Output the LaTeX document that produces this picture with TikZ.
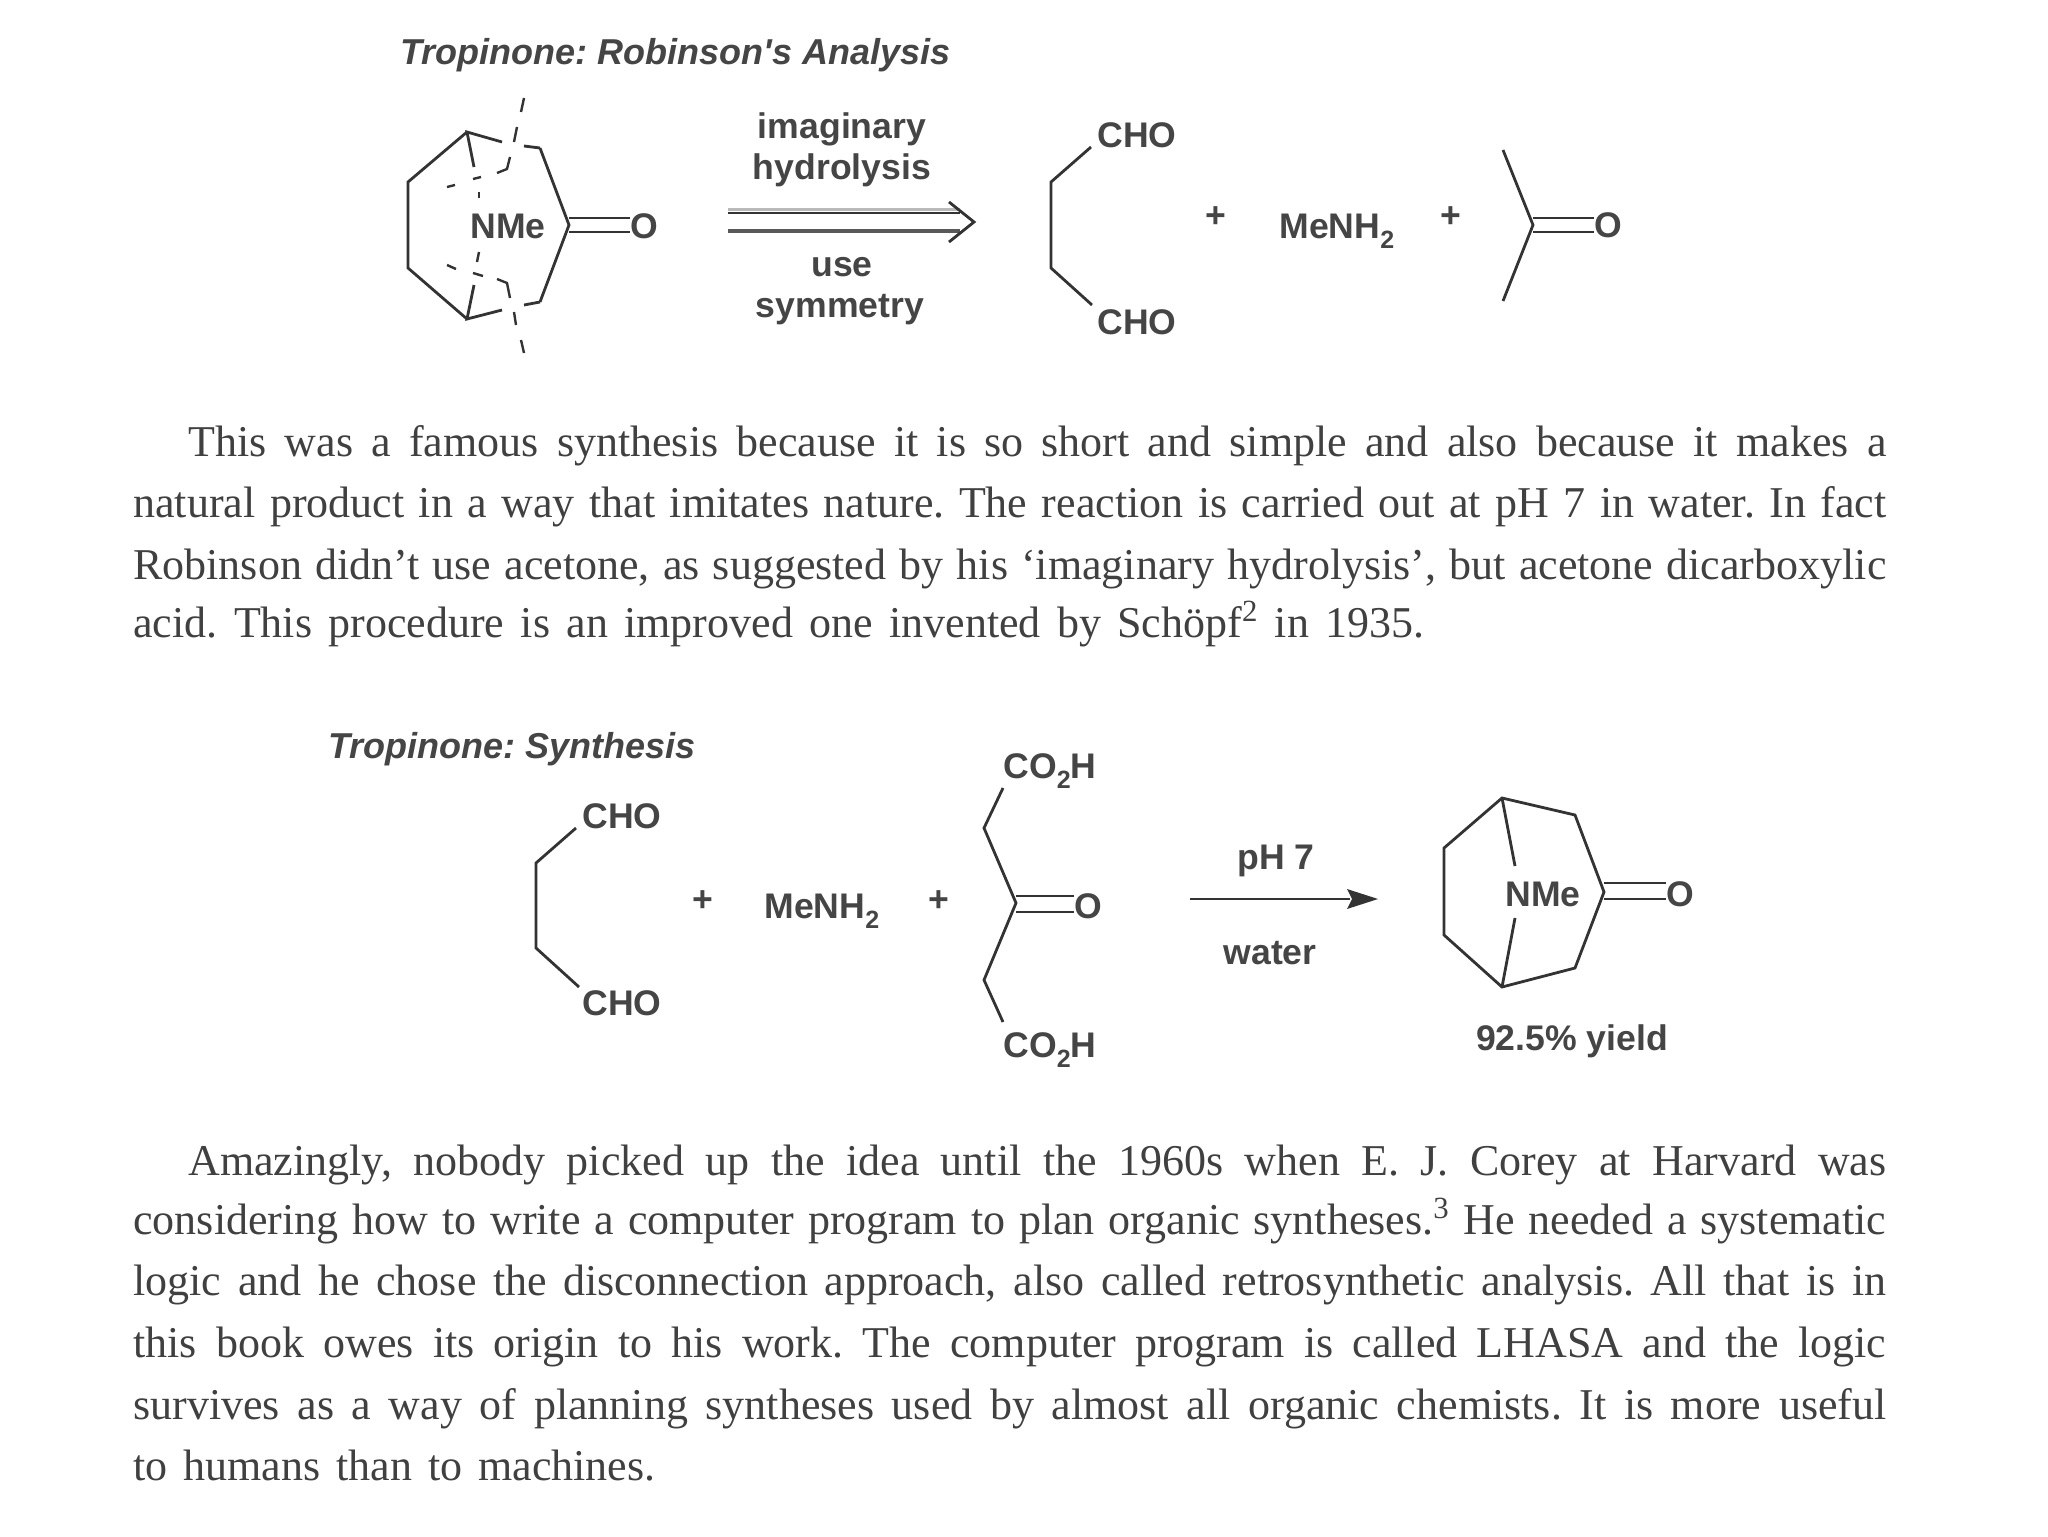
\documentclass[tikz,border=0pt]{standalone}
\usepackage{fontspec}
\setmainfont{Liberation Serif}
\newfontfamily\labfont{Liberation Sans Bold}
\newfontfamily\titlefont{Liberation Sans Bold Italic}
\definecolor{ink}{gray}{0.2}
\definecolor{labink}{gray}{0.27}
\definecolor{txt}{gray}{0.25}
\tikzset{
  bond/.style={draw=ink,line width=1.4pt,line join=miter},
  cut/.style={draw=ink,line width=1.2pt},
  lab/.style={inner sep=0pt,text=labink,font=\labfont\fontsize{17.8}{19}\selectfont},
  ttl/.style={inner sep=0pt,anchor=base west,text=labink,font=\titlefont\fontsize{18}{20}\selectfont\frenchspacing},
  bodyline/.style={inner sep=0pt,anchor=base west,text=txt,font=\fontsize{22}{24}\selectfont},
}
\newcommand{\bline}[5]{\node[bodyline] (#1) at (#2,#3) {\frenchspacing\makebox[#4pt][s]{#5}};}
\newcommand{\lowtwo}{\raisebox{-0.3em}{\fontsize{12.5}{13}\selectfont 2}}
\begin{document}
\begin{tikzpicture}[x=0.5pt,y=-0.5pt]
\useasboundingbox (0,0) rectangle (2048,1536);
% ---- titles
\node[ttl] (t1) at (400,65) {Tropinone: Robinson's Analysis};
\node[ttl] (t2) at (328,758) {Tropinone: Synthesis};
% ---- cut tropinone
\foreach \n/\x/\y in {a/467/132,b/408/182,c/408/268,d/467/319,e/540/148,f/569/225,g/540/302}
  \coordinate (\n) at (\x,\y);
\draw[bond] (e) -- (f) -- (g);
\draw[bond] (a) -- (b) -- (c) -- (d);
\coordinate (a1) at (502,142); \coordinate (e1) at (524,146);
\coordinate (d1) at (502,310); \coordinate (g1) at (524,305);
\coordinate (a2) at (474,167); \coordinate (d2) at (474,285);
\draw[bond] (a1) -- (a) -- (a2);
\draw[bond] (d1) -- (d) -- (d2);
\draw[bond] (e1) -- (e);
\draw[bond] (g1) -- (g);
\foreach \xa/\ya/\xb/\yb in {524/98/521/112, 517/127/514/142, 481/177/473/179, 455/185/447/187, 479/192/479/198, 479/252/477/262, 447/265/456/269, 473/273/483/276, 514/312/516/325, 521/340/524/353}
  \draw[cut] (\xa,\ya) -- (\xb,\yb);
\draw[cut] (510,157) -- (507,169) -- (497,173);
\draw[cut] (497,279) -- (507,283) -- (510,298);
\node[lab] (nme1) at (508,226) {NMe};
\node[lab] (o1) at (644,226) {O};
\coordinate (f1u) at (569,218); \coordinate (f1l) at (569,232);
\draw[bond] (f1u) -- (o1.west |- f1u);
\draw[bond] (f1l) -- (o1.west |- f1l);
% ---- double arrow
\coordinate (da1) at (728,213); \coordinate (da2) at (960,213);
\coordinate (db1) at (728,231); \coordinate (db2) at (960,231);
\draw[draw=gray!55,line width=1.5pt] (728,209) -- (960,209);
\draw[bond] (da1) -- (da2);
\draw[draw=gray!70!black,line width=2pt] (db1) -- (db2);
\draw[bond] (949,202) -- (974,222) -- (949,242);
\node[lab] (l1) at (842,129) {imaginary};
\node[lab] (l2) at (842,170) {hydrolysis};
\node[lab] (l3) at (842,267) {use};
\node[lab] (l4) at (840,310) {symmetry};
% ---- dialdehyde 1
\node[lab] (cho1) at (1137,135) {CHO};
\node[lab] (cho2) at (1137,322) {CHO};
\coordinate (h1) at (1091,147); \coordinate (h2) at (1051,182);
\coordinate (h3) at (1051,268); \coordinate (h4) at (1092,305);
\draw[bond] (h1) -- (h2) -- (h3) -- (h4);
\node[lab] (p1) at (1216,217) {+};
\node[lab,anchor=base west] (m1) at (1279,238) {MeNH\lowtwo};
\node[lab] (p2) at (1451,217) {+};
% ---- acetone
\coordinate (k1) at (1503,150); \coordinate (k2) at (1533,225); \coordinate (k3) at (1503,301);
\node[lab] (o2) at (1608,225) {O};
\draw[bond] (k1) -- (k2) -- (k3);
\coordinate (k2u) at (1533,218); \coordinate (k2l) at (1533,232);
\draw[bond] (k2u) -- (o2.west |- k2u);
\draw[bond] (k2l) -- (o2.west |- k2l);
% ---- body 1
\bline{b1}{188}{456}{849}{This was a famous synthesis because it is so short and simple and also because it makes a}
\bline{b2}{133}{517}{876.5}{natural product in a way that imitates nature. The reaction is carried out at pH 7 in water. In fact}
\bline{b3}{133}{579}{876.5}{Robinson didn’t use acetone, as suggested by his ‘imaginary hydrolysis’, but acetone dicarboxylic}
\bline{b4}{133}{637}{645.5}{acid. This procedure is an improved one invented by Schöpf\textsuperscript{2} in 1935.}
% ---- synthesis
\node[lab] (cho3) at (622,816) {CHO};
\node[lab] (cho4) at (622,1003) {CHO};
\coordinate (s1) at (576,828); \coordinate (s2) at (536,863);
\coordinate (s3) at (536,948); \coordinate (s4) at (579,987);
\draw[bond] (s1) -- (s2) -- (s3) -- (s4);
\node[lab] (p3) at (703,901) {+};
\node[lab,anchor=base west] (m2) at (764,918) {MeNH\lowtwo};
\node[lab] (p4) at (939,901) {+};
\coordinate (q1) at (1003,788); \coordinate (q2) at (984,828); \coordinate (q3) at (1016,903);
\coordinate (q4) at (984,980); \coordinate (q5) at (1003,1022);
\draw[bond] (q1) -- (q2) -- (q3) -- (q4) -- (q5);
\node[lab,anchor=base west] (co1) at (1003,778) {CO\lowtwo H};
\node[lab,anchor=base west] (co2) at (1003,1057) {CO\lowtwo H};
\node[lab] (o3) at (1088,906) {O};
\coordinate (q3u) at (1016,896); \coordinate (q3l) at (1016,912);
\draw[bond] (q3u) -- (o3.west |- q3u);
\draw[bond] (q3l) -- (o3.west |- q3l);
% ---- reaction arrow
\coordinate (r1) at (1190,899); \coordinate (r2) at (1350,899);
\draw[bond] (r1) -- (r2);
\fill[ink] (1347,889) -- (1352,899) -- (1347,909) -- (1378,899) -- cycle;
\node[lab] (ph) at (1276,861) {pH 7};
\node[lab] (wa) at (1270,953) {water};
% ---- product
\foreach \n/\x/\y in {pa/1502/798,pb/1444/848,pc/1444/935,pd/1502/987,pe/1575/968,pf/1604/892,pg/1575/815}
  \coordinate (\n) at (\x,\y);
\draw[bond] (pf) -- (pg) -- (pa) -- (pb) -- (pc) -- (pd) -- (pe) -- cycle;
\node[lab] (nme2) at (1543,894) {NMe};
\coordinate (pt) at (1515,866); \coordinate (pu) at (1515,918);
\draw[bond] (pa) -- (pt);
\draw[bond] (pd) -- (pu);
\node[lab] (o4) at (1680,894) {O};
\coordinate (pfu) at (1604,883); \coordinate (pfl) at (1604,899);
\draw[bond] (pfu) -- (o4.west |- pfu);
\draw[bond] (pfl) -- (o4.west |- pfl);
\node[lab] (yield) at (1572,1041) {92.5\% yield};
% ---- body 2
\bline{b5}{188}{1175}{849}{Amazingly, nobody picked up the idea until the 1960s when E. J. Corey at Harvard was}
\bline{b6}{133}{1234}{876.5}{considering how to write a computer program to plan organic syntheses.\textsuperscript{3} He needed a systematic}
\bline{b7}{133}{1295}{876.5}{logic and he chose the disconnection approach, also called retrosynthetic analysis. All that is in}
\bline{b8}{133}{1357}{876.5}{this book owes its origin to his work. The computer program is called LHASA and the logic}
\bline{b9}{133}{1419}{876.5}{survives as a way of planning syntheses used by almost all organic chemists. It is more useful}
\bline{b10}{133}{1480}{261}{to humans than to machines.}
\end{tikzpicture}
\end{document}
